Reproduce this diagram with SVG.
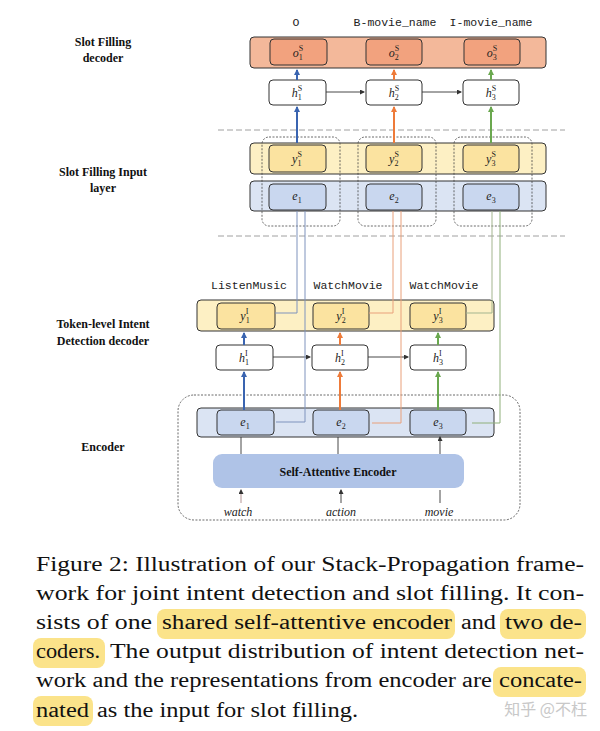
<svg xmlns="http://www.w3.org/2000/svg" width="600" height="731" viewBox="0 0 600 731">
<style>
.lbl{font-family:"Liberation Serif","Times New Roman",Times,serif;font-weight:bold;font-size:12px;text-anchor:middle;fill:#111}
.mono{font-family:"Liberation Mono","Courier New",monospace;font-size:11.5px;text-anchor:middle;fill:#222}
.m{font-family:"Liberation Serif","Times New Roman",Times,serif;font-style:italic;font-size:12px;text-anchor:middle;fill:#222}
.sub{font-size:8px;font-style:normal}
.box{stroke:#333;stroke-width:1;rx:4}
.cap{font-family:"Liberation Serif","Times New Roman",Times,serif;font-size:20px;fill:#111}
.hl{fill:#fbe38a}
.ln{fill:none;stroke-width:1}
</style>
<defs>
<marker id="ab" markerWidth="6" markerHeight="6" refX="5" refY="3" orient="auto" markerUnits="userSpaceOnUse"><path d="M0,0L6,3L0,6z" fill="#3a64b0"/></marker>
<marker id="ao" markerWidth="6" markerHeight="6" refX="5" refY="3" orient="auto" markerUnits="userSpaceOnUse"><path d="M0,0L6,3L0,6z" fill="#ee7b3a"/></marker>
<marker id="ag" markerWidth="6" markerHeight="6" refX="5" refY="3" orient="auto" markerUnits="userSpaceOnUse"><path d="M0,0L6,3L0,6z" fill="#6aa84f"/></marker>
<marker id="ak" markerWidth="5" markerHeight="5" refX="4" refY="2.5" orient="auto" markerUnits="userSpaceOnUse"><path d="M0,0L5,2.5L0,5z" fill="#333"/></marker>
</defs>
<rect width="600" height="731" fill="#fff"/>

<g id="labels">
<text class="lbl" x="103" y="46">Slot Filling</text><text class="lbl" x="103" y="62">decoder</text>
<text class="lbl" x="103" y="176">Slot Filling Input</text><text class="lbl" x="103" y="192">layer</text>
<text class="lbl" x="103" y="328">Token-level Intent</text><text class="lbl" x="103" y="345">Detection decoder</text>
<text class="lbl" x="103" y="451">Encoder</text>
<text class="mono" x="296" y="26">O</text>
<text class="mono" x="395" y="26">B-movie_name</text>
<text class="mono" x="491" y="26">I-movie_name</text>
<text class="mono" x="249" y="289">ListenMusic</text>
<text class="mono" x="348" y="289">WatchMovie</text>
<text class="mono" x="444" y="289">WatchMovie</text>
</g>

<g id="dashes" stroke="#888" stroke-dasharray="6,3" stroke-width="0.8">
<line x1="218" y1="130" x2="565" y2="130"/>
<line x1="218" y1="236" x2="565" y2="236"/>
</g>

<g id="slot-decoder">
<rect x="250" y="37" width="296" height="31" fill="#f3b89a" class="box"/>
<rect x="270" y="39" width="57" height="26" fill="#f2a27e" class="box"/>
<rect x="366" y="39" width="56" height="26" fill="#f2a27e" class="box"/>
<rect x="464" y="39" width="56" height="26" fill="#f2a27e" class="box"/>
<text class="m" x="298" y="57">o<tspan class="sub" dy="3">1</tspan><tspan class="sub" dx="-4" dy="-9">S</tspan></text>
<text class="m" x="394" y="57">o<tspan class="sub" dy="3">2</tspan><tspan class="sub" dx="-4" dy="-9">S</tspan></text>
<text class="m" x="492" y="57">o<tspan class="sub" dy="3">3</tspan><tspan class="sub" dx="-4" dy="-9">S</tspan></text>
</g>
<g id="slot-h">
<rect x="269" y="80" width="57" height="25" fill="#fff" class="box"/>
<rect x="366" y="80" width="56" height="25" fill="#fff" class="box"/>
<rect x="463" y="80" width="56" height="25" fill="#fff" class="box"/>
<text class="m" x="297" y="97">h<tspan class="sub" dy="3">1</tspan><tspan class="sub" dx="-4" dy="-9">S</tspan></text>
<text class="m" x="394" y="97">h<tspan class="sub" dy="3">2</tspan><tspan class="sub" dx="-4" dy="-9">S</tspan></text>
<text class="m" x="491" y="97">h<tspan class="sub" dy="3">3</tspan><tspan class="sub" dx="-4" dy="-9">S</tspan></text>
</g>
<g id="slot-input">
<rect x="250" y="143" width="296" height="31" fill="#fdf0c4" class="box"/>
<rect x="269" y="145" width="57" height="27" fill="#fbe3a0" class="box"/>
<rect x="366" y="145" width="56" height="27" fill="#fbe3a0" class="box"/>
<rect x="463" y="145" width="56" height="27" fill="#fbe3a0" class="box"/>
<text class="m" x="297" y="163">y<tspan class="sub" dy="3">1</tspan><tspan class="sub" dx="-4" dy="-9">S</tspan></text>
<text class="m" x="394" y="163">y<tspan class="sub" dy="3">2</tspan><tspan class="sub" dx="-4" dy="-9">S</tspan></text>
<text class="m" x="491" y="163">y<tspan class="sub" dy="3">3</tspan><tspan class="sub" dx="-4" dy="-9">S</tspan></text>
<rect x="250" y="181" width="296" height="30" fill="#dbe4f3" class="box"/>
<rect x="269" y="184" width="57" height="26" fill="#c9d7ef" class="box"/>
<rect x="366" y="184" width="56" height="26" fill="#c9d7ef" class="box"/>
<rect x="463" y="184" width="56" height="26" fill="#c9d7ef" class="box"/>
<text class="m" x="297" y="200">e<tspan class="sub" dy="3">1</tspan></text>
<text class="m" x="394" y="200">e<tspan class="sub" dy="3">2</tspan></text>
<text class="m" x="491" y="200">e<tspan class="sub" dy="3">3</tspan></text>
<g fill="none" stroke="#444" stroke-dasharray="2,1.5" stroke-width="0.8">
<rect x="262" y="137" width="78" height="89" rx="7"/>
<rect x="358" y="137" width="78" height="89" rx="7"/>
<rect x="454" y="137" width="78" height="89" rx="7"/>
</g>
</g>

<g id="intent-y">
<rect x="197" y="300" width="297" height="31" fill="#fdf0c4" class="box"/>
<rect x="217" y="303" width="58" height="26" fill="#fbe3a0" class="box"/>
<rect x="313" y="303" width="56" height="26" fill="#fbe3a0" class="box"/>
<rect x="410" y="303" width="56" height="26" fill="#fbe3a0" class="box"/>
<text class="m" x="245" y="320">y<tspan class="sub" dy="3">1</tspan><tspan class="sub" dx="-4" dy="-9">I</tspan></text>
<text class="m" x="341" y="320">y<tspan class="sub" dy="3">2</tspan><tspan class="sub" dx="-4" dy="-9">I</tspan></text>
<text class="m" x="438" y="320">y<tspan class="sub" dy="3">3</tspan><tspan class="sub" dx="-4" dy="-9">I</tspan></text>
</g>
<g id="intent-h">
<rect x="216" y="345" width="57" height="25" fill="#fff" class="box"/>
<rect x="312" y="345" width="56" height="25" fill="#fff" class="box"/>
<rect x="410" y="345" width="56" height="25" fill="#fff" class="box"/>
<text class="m" x="244" y="362">h<tspan class="sub" dy="3">1</tspan><tspan class="sub" dx="-4" dy="-9">I</tspan></text>
<text class="m" x="340" y="362">h<tspan class="sub" dy="3">2</tspan><tspan class="sub" dx="-4" dy="-9">I</tspan></text>
<text class="m" x="438" y="362">h<tspan class="sub" dy="3">3</tspan><tspan class="sub" dx="-4" dy="-9">I</tspan></text>
</g>
<g id="encoder">
<rect x="178" y="395" width="342" height="125" rx="16" fill="none" stroke="#444" stroke-dasharray="2,1.5" stroke-width="0.8"/>
<rect x="197" y="408" width="297" height="29" fill="#dbe4f3" class="box"/>
<rect x="217" y="410" width="57" height="25" fill="#c9d7ef" class="box"/>
<rect x="313" y="410" width="56" height="25" fill="#c9d7ef" class="box"/>
<rect x="410" y="410" width="56" height="25" fill="#c9d7ef" class="box"/>
<text class="m" x="245" y="426">e<tspan class="sub" dy="3">1</tspan></text>
<text class="m" x="341" y="426">e<tspan class="sub" dy="3">2</tspan></text>
<text class="m" x="438" y="426">e<tspan class="sub" dy="3">3</tspan></text>
<rect x="213" y="454" width="251" height="34" rx="9" fill="#afc3e7"/>
<text class="lbl" x="338" y="476" font-size="13">Self-Attentive Encoder</text>
<text class="m" x="238" y="516">watch</text>
<text class="m" x="341" y="516">action</text>
<text class="m" x="439" y="516">movie</text>
</g>

<g id="connectors">
<g stroke="#333" stroke-width="0.9" fill="none">
<line x1="326" y1="92" x2="364" y2="92" marker-end="url(#ak)"/>
<line x1="422" y1="92" x2="461" y2="92" marker-end="url(#ak)"/>
<line x1="273" y1="357" x2="310" y2="357" marker-end="url(#ak)"/>
<line x1="368" y1="357" x2="408" y2="357" marker-end="url(#ak)"/>
<line x1="241" y1="454" x2="241" y2="437"/>
<line x1="338" y1="454" x2="338" y2="437"/>
<line x1="440" y1="454" x2="440" y2="437" marker-end="url(#ak)"/>
<line x1="241" y1="503" x2="241" y2="490" marker-end="url(#ak)" stroke="#a88"/>
<line x1="341" y1="503" x2="341" y2="490" marker-end="url(#ak)"/>
<line x1="440" y1="503" x2="440" y2="490"/>
</g>
<g stroke-width="2" fill="none">
<line x1="297" y1="143" x2="297" y2="107" stroke="#3a64b0" marker-end="url(#ab)"/>
<line x1="394" y1="143" x2="394" y2="107" stroke="#ee7b3a" marker-end="url(#ao)"/>
<line x1="491" y1="143" x2="491" y2="107" stroke="#6aa84f" marker-end="url(#ag)"/>
<line x1="297" y1="80" x2="297" y2="70" stroke="#3a64b0" marker-end="url(#ab)"/>
<line x1="394" y1="80" x2="394" y2="70" stroke="#ee7b3a" marker-end="url(#ao)"/>
<line x1="491" y1="80" x2="491" y2="70" stroke="#6aa84f" marker-end="url(#ag)"/>
<line x1="244" y1="345" x2="244" y2="333" stroke="#3a64b0" marker-end="url(#ab)"/>
<line x1="340" y1="345" x2="340" y2="333" stroke="#ee7b3a" marker-end="url(#ao)"/>
<line x1="438" y1="345" x2="438" y2="333" stroke="#6aa84f" marker-end="url(#ag)"/>
<line x1="244" y1="410" x2="244" y2="372" stroke="#3a64b0" marker-end="url(#ab)"/>
<line x1="340" y1="410" x2="340" y2="372" stroke="#ee7b3a" marker-end="url(#ao)"/>
<line x1="438" y1="410" x2="438" y2="372" stroke="#6aa84f" marker-end="url(#ag)"/>
</g>
<g class="ln">
<polyline points="275,313 297,313 297,211" stroke="#7f93bd"/>
<polyline points="276,422 305,422 305,211" stroke="#7f93bd"/>
<polyline points="369,313 393,313 393,211" stroke="#e9a07a"/>
<polyline points="372,423 401,423 401,211" stroke="#e9a07a"/>
<polyline points="466,313 492,313 492,211" stroke="#a3b58f"/>
<polyline points="472,423 500,423 500,211" stroke="#8fb07a"/>
</g>
</g>

<g id="caption">
<rect class="hl" x="157" y="609" width="298" height="30" rx="8"/>
<rect class="hl" x="500" y="609" width="86" height="30" rx="8"/>
<rect class="hl" x="33" y="638" width="72" height="30" rx="8"/>
<rect class="hl" x="493" y="667" width="93" height="30" rx="8"/>
<rect class="hl" x="33" y="696" width="60" height="30" rx="8"/>
<text class="cap" x="36" y="571" textLength="548" lengthAdjust="spacingAndGlyphs">Figure 2: Illustration of our Stack-Propagation frame-</text>
<text class="cap" x="36" y="600" textLength="548" lengthAdjust="spacingAndGlyphs">work for joint intent detection and slot filling. It con-</text>
<text class="cap" x="36" y="629" textLength="116" lengthAdjust="spacingAndGlyphs">sists of one</text>
<text class="cap" x="162" y="629" textLength="290" lengthAdjust="spacingAndGlyphs">shared self-attentive encoder</text>
<text class="cap" x="461" y="629" textLength="35" lengthAdjust="spacingAndGlyphs">and</text>
<text class="cap" x="505" y="629" textLength="77" lengthAdjust="spacingAndGlyphs">two de-</text>
<text class="cap" x="36" y="658" textLength="64" lengthAdjust="spacingAndGlyphs">coders.</text>
<text class="cap" x="110" y="658" textLength="474" lengthAdjust="spacingAndGlyphs">The output distribution of intent detection net-</text>
<text class="cap" x="36" y="687" textLength="456" lengthAdjust="spacingAndGlyphs">work and the representations from encoder are</text>
<text class="cap" x="499" y="687" textLength="83" lengthAdjust="spacingAndGlyphs">concate-</text>
<text class="cap" x="36" y="717" textLength="53" lengthAdjust="spacingAndGlyphs">nated</text>
<text class="cap" x="97" y="717" textLength="261" lengthAdjust="spacingAndGlyphs">as the input for slot filling.</text>
<text x="587" y="715" text-anchor="end" font-family="'Noto Sans CJK SC',sans-serif" font-size="16" fill="#c8c8c8">知乎 @不枉</text>
</g>
</svg>
